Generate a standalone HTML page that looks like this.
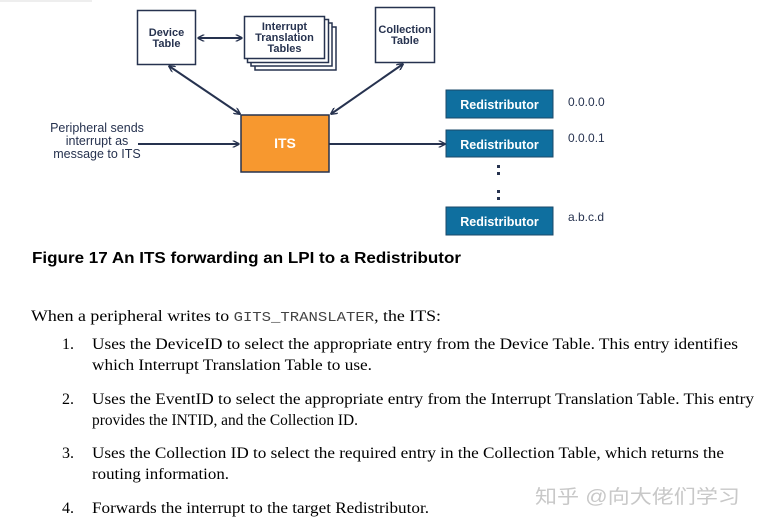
<!DOCTYPE html>
<html><head><meta charset="utf-8"><style>
html,body{margin:0;padding:0;background:#fff;width:760px;height:527px;overflow:hidden}
svg{display:block}
</style></head><body>
<svg width="760" height="527" viewBox="0 0 760 527" xmlns="http://www.w3.org/2000/svg">
<defs>
<marker id="a" viewBox="0 0 10 10" refX="9" refY="5" markerWidth="7" markerHeight="7" orient="auto-start-reverse" markerUnits="userSpaceOnUse">
<path d="M0,0 L10,5 L0,10" fill="none" stroke="#26324f" stroke-width="2"/></marker>
</defs>
<rect x="0" y="0" width="92" height="2" fill="#eee"/>
<g font-family="Liberation Sans, sans-serif" font-weight="bold" fill="#26324f" font-size="11" text-anchor="middle">
<rect x="137.5" y="10.5" width="58" height="54" fill="#fff" stroke="#26324f" stroke-width="1.5"/>
<text x="166.5" y="36">Device</text><text x="166.5" y="47">Table</text>
<rect x="255" y="27" width="81" height="43" fill="#fff" stroke="#26324f" stroke-width="1.5"/>
<rect x="251" y="23" width="81" height="43" fill="#fff" stroke="#26324f" stroke-width="1.5"/>
<rect x="247.5" y="19.5" width="81" height="43" fill="#fff" stroke="#26324f" stroke-width="1.5"/>
<rect x="244.5" y="16.5" width="80" height="42" fill="#fff" stroke="#26324f" stroke-width="1.5"/>
<text x="284.5" y="30">Interrupt</text><text x="284.5" y="41">Translation</text><text x="284.5" y="52">Tables</text>
<rect x="375.5" y="7.5" width="59" height="55" fill="#fff" stroke="#26324f" stroke-width="1.5"/>
<text x="405" y="33">Collection</text><text x="405" y="44">Table</text>
</g>
<g stroke="#26324f" stroke-width="2" fill="none">
<line x1="198" y1="38" x2="242" y2="38" marker-start="url(#a)" marker-end="url(#a)"/>
<line x1="169" y1="66" x2="240" y2="114" marker-start="url(#a)" marker-end="url(#a)"/>
<line x1="403" y1="64" x2="331" y2="114" marker-start="url(#a)" marker-end="url(#a)"/>
<line x1="138" y1="144" x2="239" y2="144" marker-end="url(#a)"/>
<line x1="329" y1="144" x2="445" y2="144" marker-end="url(#a)"/>
</g>
<rect x="241" y="115" width="88" height="57" fill="#f7982f" stroke="#26324f" stroke-width="1.5"/>
<text x="285" y="148" font-family="Liberation Sans, sans-serif" font-weight="bold" font-size="14" fill="#fff" text-anchor="middle">ITS</text>
<g font-family="Liberation Sans, sans-serif" font-size="12.5" fill="#26324f" text-anchor="middle">
<text x="97" y="132">Peripheral sends</text><text x="97" y="145">interrupt as</text><text x="97" y="158">message to ITS</text>
</g>
<g font-family="Liberation Sans, sans-serif" font-weight="bold" font-size="12.5" fill="#fff" text-anchor="middle">
<rect x="446" y="90" width="107" height="28" fill="#0f6f9f" stroke="#1b4a6a"/>
<text x="499.5" y="109">Redistributor</text>
<rect x="446" y="130" width="107" height="27" fill="#0f6f9f" stroke="#1b4a6a"/>
<text x="499.5" y="149">Redistributor</text>
<rect x="446" y="207" width="107" height="28" fill="#0f6f9f" stroke="#1b4a6a"/>
<text x="499.5" y="226">Redistributor</text>
</g>
<g font-family="Liberation Sans, sans-serif" font-size="12" fill="#26324f">
<text x="568" y="106">0.0.0.0</text><text x="568" y="142">0.0.0.1</text><text x="568" y="221">a.b.c.d</text>
</g>
<g fill="#26324f"><rect x="497" y="165" width="3" height="3"/><rect x="497" y="172" width="3" height="3"/><rect x="497" y="190" width="3" height="3"/><rect x="497" y="197" width="3" height="3"/></g>
<text x="32" y="263" font-family="Liberation Sans, sans-serif" font-weight="bold" font-size="16" fill="#000" textLength="429" lengthAdjust="spacingAndGlyphs">Figure 17 An ITS forwarding an LPI to a Redistributor</text>
<g font-family="Liberation Serif, serif" font-size="16" fill="#000">
<text x="31" y="321" textLength="410" lengthAdjust="spacingAndGlyphs">When a peripheral writes to <tspan font-family="Liberation Mono, monospace" font-size="14" fill="#444">GITS_TRANSLATER</tspan>, the ITS:</text>
<text x="62" y="349">1.</text>
<text x="92" y="349" textLength="646" lengthAdjust="spacingAndGlyphs">Uses the DeviceID to select the appropriate entry from the Device Table.  This entry identifies</text>
<text x="92" y="370" textLength="280" lengthAdjust="spacingAndGlyphs">which Interrupt Translation Table to use.</text>
<text x="62" y="404">2.</text>
<text x="92" y="404" textLength="662" lengthAdjust="spacingAndGlyphs">Uses the EventID to select the appropriate entry from the Interrupt Translation Table.  This entry</text>
<text x="92" y="425" textLength="266" lengthAdjust="spacingAndGlyphs">provides the INTID, and the Collection ID.</text>
<text x="62" y="458">3.</text>
<text x="92" y="458" textLength="632" lengthAdjust="spacingAndGlyphs">Uses the Collection ID to select the required entry in the Collection Table, which returns the</text>
<text x="92" y="479" textLength="137" lengthAdjust="spacingAndGlyphs">routing information.</text>
<text x="62" y="513">4.</text>
<text x="92" y="513" textLength="337" lengthAdjust="spacingAndGlyphs">Forwards the interrupt to the target Redistributor.</text>
</g>
<text x="535" y="503" font-family="Liberation Sans, 'Noto Sans CJK SC', sans-serif" font-size="19" fill="#c8c8c8" textLength="205" lengthAdjust="spacingAndGlyphs">知乎 @向大佬们学习</text>
</svg>
</body></html>
